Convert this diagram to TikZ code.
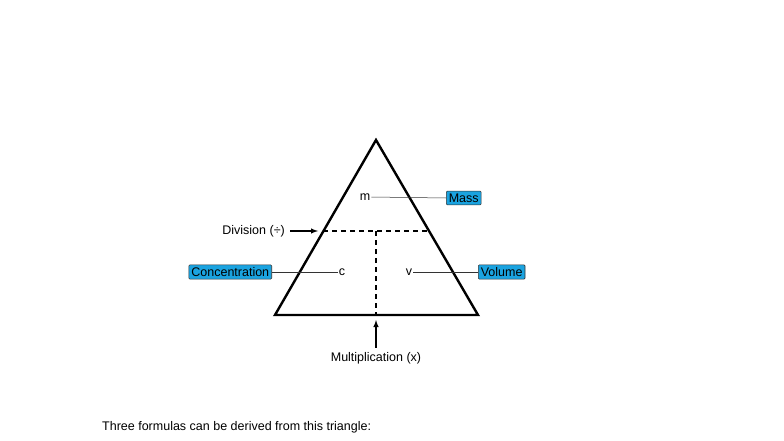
\documentclass[tikz,border=0pt]{standalone}
\usepackage{fontspec}
\setmainfont{Liberation Sans}
\definecolor{boxblue}{HTML}{1AA3E0}
\begin{document}
\begin{tikzpicture}[x=1pt,y=-1pt,
  lbl/.style={font=\fontsize{12.5}{14}\selectfont,inner sep=1pt},
  bluebox/.style={lbl,draw=black!80,fill=boxblue,rounded corners=1pt,inner sep=2.5pt,line width=0.6pt},
  thin/.style={line width=0.5pt,black!80},
  dsh/.style={line width=1.6pt,dash pattern=on 5pt off 4pt}]
\useasboundingbox (0,0) rectangle (784,441);
\coordinate (A) at (376,140);
\coordinate (L) at (275,315);
\coordinate (R) at (478,315);
\draw[line width=2.4pt,line join=miter] (A) -- (L) -- (R) -- cycle;
\coordinate (dl) at (323,231);
\coordinate (dr) at (429,231);
\coordinate (dm) at (376,231);
\coordinate (db) at (376,314);
\draw[dsh] (dl) -- (dr);
\draw[dsh] (dm) -- (db);
\node[lbl,anchor=east] (div) at (286,231) {Division (÷)};
\coordinate (divt) at (318,231);
\draw[line width=1.4pt,-latex] (div.east) ++(4,0) coordinate (divs) (divs) -- (divt);
\node[lbl] (mul) at (376,358) {Multiplication (x)};
\coordinate (mult) at (376,320);
\draw[line width=1.4pt,-latex] (mul.north) ++(0,-3) coordinate (muls) (muls) -- (mult);
\node[lbl] (m) at (365,197) {m};
\node[lbl] (c) at (342,272) {c};
\node[lbl] (v) at (409,272) {v};
\node[bluebox,anchor=west] (mass) at (446,198) {Mass};
\node[bluebox,anchor=east] (conc) at (272,272) {Concentration};
\node[bluebox,anchor=west] (vol) at (478,272) {Volume};
\draw[thin] (m.east) -- (mass.west);
\draw[thin] (conc.east) -- (c.west);
\draw[thin] (v.east) -- (vol.west);
\node[lbl,anchor=west] (txt) at (101,427) {Three formulas can be derived from this triangle:};
\end{tikzpicture}
\end{document}
